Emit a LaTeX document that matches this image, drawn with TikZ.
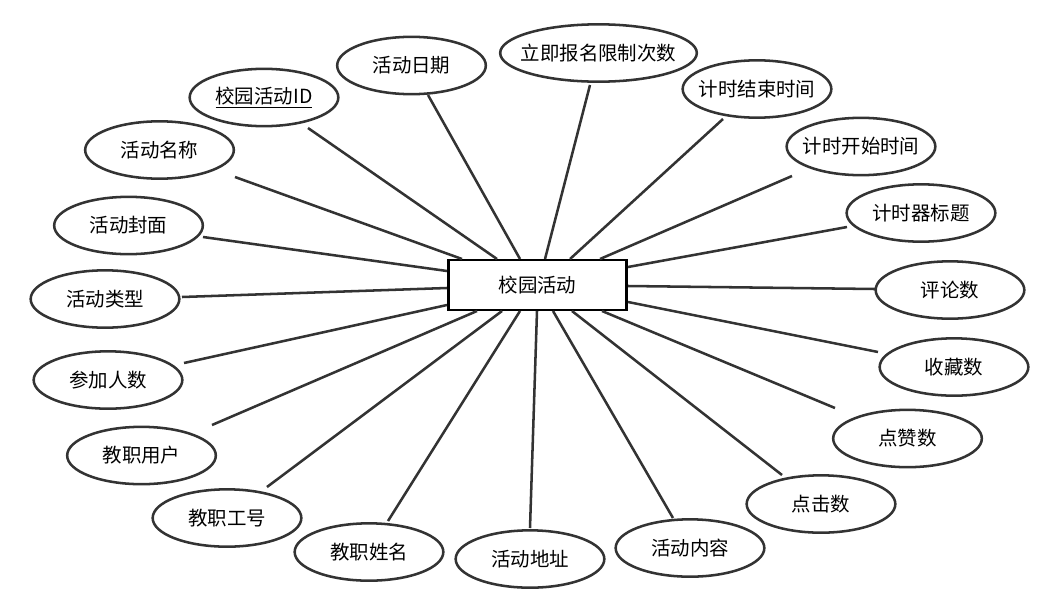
\documentclass[tikz,border=0pt]{standalone}
\usepackage{fontspec}
\setmainfont{Noto Sans CJK SC}
\usetikzlibrary{shapes.geometric}
\definecolor{edgec}{HTML}{333333}
\newcommand\zbox[1]{\makebox[0pt]{#1}}
\begin{document}
\begin{tikzpicture}[x=0.75pt,y=-0.75pt,
  attr/.style={ellipse,draw=edgec,line width=1.9pt,minimum width=111.5pt,minimum height=43pt,inner sep=0pt,font=\fontsize{14.6}{16}\selectfont},
  wideattr/.style={attr,minimum width=147.5pt},
  ent/.style={rectangle,draw=black,line width=2.2pt,minimum width=133pt,minimum height=37.5pt,inner sep=0pt,font=\fontsize{14.6}{16}\selectfont},
  link/.style={draw=edgec,line width=1.9pt}]
\useasboundingbox (0,0) rectangle (1053,611);
\node[ent] (r) at (537.5,285) {校园活动};
\node[attr] (mc) at (159.5,150) {\zbox{活动名称}};
\node[attr] (id) at (264,97.5) {\zbox{\underline{校园活动ID}}};
\node[attr] (rq) at (411.5,65.5) {\zbox{活动日期}};
\node[wideattr] (lj) at (598.5,53) {\zbox{立即报名限制次数}};
\node[attr] (js) at (757,89) {\zbox{计时结束时间}};
\node[attr] (ks) at (861,146.5) {\zbox{计时开始时间}};
\node[attr] (bt) at (921,213) {\zbox{计时器标题}};
\node[attr] (pl) at (950,290) {\zbox{评论数}};
\node[attr] (sc) at (954,367) {\zbox{收藏数}};
\node[attr] (dz) at (907.5,438.5) {\zbox{点赞数}};
\node[attr] (dj) at (821,504) {\zbox{点击数}};
\node[attr] (nr) at (690,548) {\zbox{活动内容}};
\node[attr] (dd) at (530,559) {\zbox{活动地址}};
\node[attr] (xm) at (369,552) {\zbox{教职姓名}};
\node[attr] (gh) at (227,518) {\zbox{教职工号}};
\node[attr] (yh) at (141.5,455.5) {\zbox{教职用户}};
\node[attr] (rs) at (108,380) {\zbox{参加人数}};
\node[attr] (lx) at (105,299) {\zbox{活动类型}};
\node[attr] (fm) at (128.5,225.5) {\zbox{活动封面}};
\draw[link] ([shift={(75.5,27)}]mc.center) -- ([shift={(-75.5,-26)}]r.center);
\draw[link] ([shift={(44,30.5)}]id.center) -- ([shift={(-40.5,-26)}]r.center);
\draw[link] ([shift={(16.5,29.5)}]rq.center) -- ([shift={(-17.5,-26)}]r.center);
\draw[link] ([shift={(-8.5,32)}]lj.center) -- ([shift={(7.5,-26)}]r.center);
\draw[link] ([shift={(-34,30)}]js.center) -- ([shift={(32.5,-26)}]r.center);
\draw[link] ([shift={(-69,29.5)}]ks.center) -- ([shift={(62.5,-26)}]r.center);
\draw[link] ([shift={(-74,14)}]bt.center) -- ([shift={(90.5,-18)}]r.center);
\draw[link] ([shift={(-75,-1)}]pl.center) -- ([shift={(90.5,1)}]r.center);
\draw[link] ([shift={(-76,-15)}]sc.center) -- ([shift={(90.5,17)}]r.center);
\draw[link] ([shift={(-72.5,-30.5)}]dz.center) -- ([shift={(64.5,26)}]r.center);
\draw[link] ([shift={(-39,-29)}]dj.center) -- ([shift={(34.5,26)}]r.center);
\draw[link] ([shift={(-17,-30)}]nr.center) -- ([shift={(15.5,26)}]r.center);
\draw[link] ([shift={(0,-31)}]dd.center) -- ([shift={(-0.5,26)}]r.center);
\draw[link] ([shift={(19,-31)}]xm.center) -- ([shift={(-17.5,26)}]r.center);
\draw[link] ([shift={(40,-31)}]gh.center) -- ([shift={(-35.5,26)}]r.center);
\draw[link] ([shift={(70.5,-30.5)}]yh.center) -- ([shift={(-60.5,26)}]r.center);
\draw[link] ([shift={(76,-17)}]rs.center) -- ([shift={(-90.5,20)}]r.center);
\draw[link] ([shift={(77,-2)}]lx.center) -- ([shift={(-90.5,3)}]r.center);
\draw[link] ([shift={(74.5,11.5)}]fm.center) -- ([shift={(-90.5,-14)}]r.center);
\end{tikzpicture}
\end{document}
